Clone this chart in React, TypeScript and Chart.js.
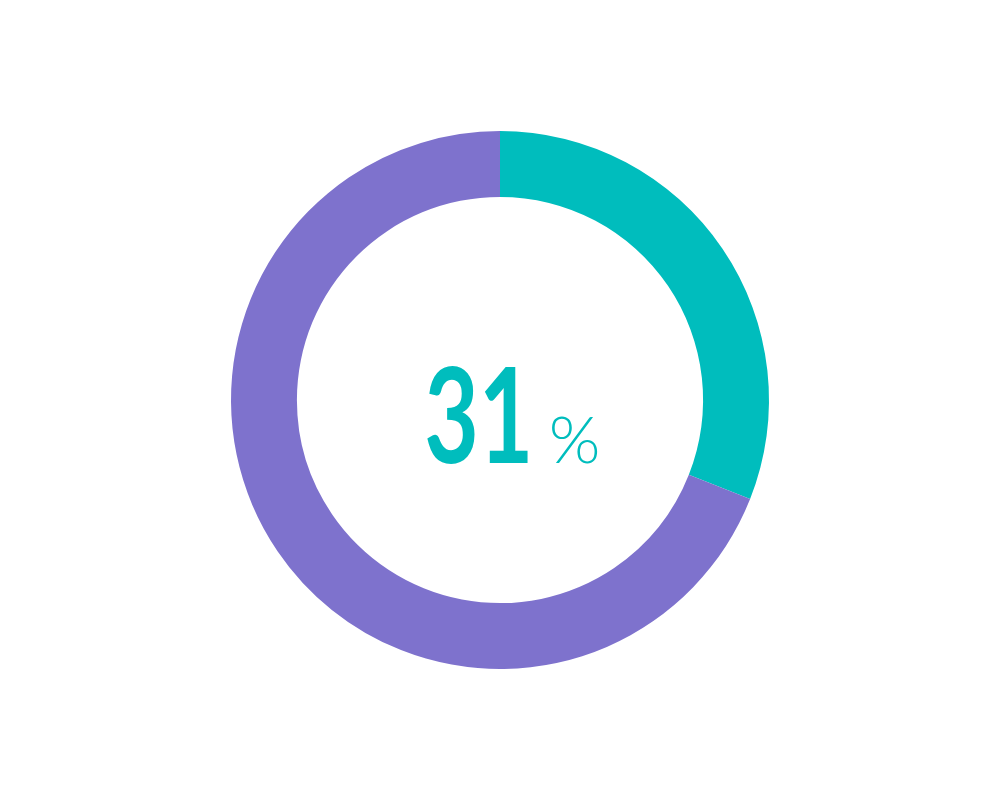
import React, { useEffect, useRef } from "react";
import { Chart, registerables } from "chart.js";

Chart.register(...registerables);

const categories = ["Done", "Remaining"];
const values = [31, 69];
const colors = ["#00BDBD", "#7E72CD"];
const centerValue = "31";
const centerUnit = "%";

const centerTextPlugin = {
  id: "centerText",
  afterDraw(chart: any) {
    const ctx = chart.ctx as CanvasRenderingContext2D;
    const meta = chart.getDatasetMeta(0);
    const arc = meta.data[0];
    const cx = arc.x;
    const cy = arc.y;
    ctx.save();
    ctx.fillStyle = colors[0];
    ctx.textBaseline = "alphabetic";
    ctx.textAlign = "left";
    ctx.font = "bold 134px Lato";
    const m = ctx.measureText(centerValue);
    const w = m.actualBoundingBoxRight + m.actualBoundingBoxLeft;
    const h = m.actualBoundingBoxAscent;
    ctx.save();
    ctx.translate(cx - 73, cy + 63);
    ctx.scale(101 / w, 96 / h);
    ctx.fillText(centerValue, m.actualBoundingBoxLeft, 0);
    ctx.restore();
    ctx.font = "300 62px Lato";
    const m2 = ctx.measureText(centerUnit);
    const w2 = m2.actualBoundingBoxRight + m2.actualBoundingBoxLeft;
    const h2 = m2.actualBoundingBoxAscent;
    ctx.save();
    ctx.translate(cx + 52, cy + 63);
    ctx.scale(46 / w2, 45 / h2);
    ctx.fillText(centerUnit, m2.actualBoundingBoxLeft, 0);
    ctx.restore();
    ctx.restore();
  },
};

export default function App() {
  const ref = useRef<HTMLCanvasElement | null>(null);
  useEffect(() => {
    if (!ref.current) return;
    const chart = new Chart(ref.current, {
      type: "doughnut",
      data: {
        labels: categories,
        datasets: [
          {
            data: values,
            backgroundColor: colors,
            borderWidth: 0,
          },
        ],
      },
      options: {
        animation: false,
        responsive: false,
        radius: 269,
        cutout: "75.5%",
        layout: { padding: 0 },
        plugins: {
          legend: { display: false },
          tooltip: { enabled: false },
        },
      },
      plugins: [centerTextPlugin],
    });
    return () => chart.destroy();
  }, []);
  return (
    <div
      style={{
        position: "fixed",
        left: 0,
        top: 0,
        width: 1000,
        height: 800,
        background: "#ffffff",
      }}
    >
      <canvas ref={ref} width={1000} height={800} style={{ width: 1000, height: 800 }} />
    </div>
  );
}
